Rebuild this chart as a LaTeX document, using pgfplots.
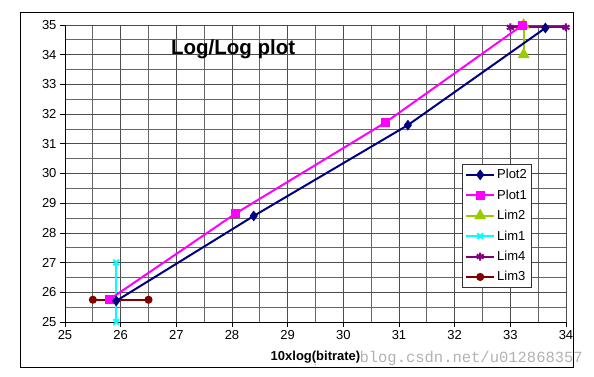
\documentclass[border=0pt]{standalone}
\usepackage{pgfplots}
\pgfplotsset{compat=1.18}
\usepackage{fontspec}
\setmainfont{Liberation Sans}
\newfontfamily\wmfont{Liberation Mono}
\definecolor{cNavy}{HTML}{000080}
\definecolor{cMag}{HTML}{FF00FF}
\definecolor{cLime}{HTML}{99CC00}
\definecolor{cCyan}{HTML}{00FFFF}
\definecolor{cPurple}{HTML}{800080}
\definecolor{cDred}{HTML}{800000}
\begin{document}
\begin{tikzpicture}[x=1pt,y=1pt]
\useasboundingbox (0,0) rectangle (594,376);
\draw[line width=1pt] (20,9) rectangle (573,364);
\node[anchor=base east, text=black!30, font=\wmfont\fontsize{15.5}{15.5}\selectfont, inner sep=0pt] at (583,14) {https://blog.csdn.net/u012868357};
\begin{axis}[at={(65pt,54pt)}, anchor=south west, scale only axis, width=501pt, height=297pt,
 xmin=25, xmax=34, ymin=25, ymax=35,
 xtick={25,...,34}, ytick={25,...,35}, minor tick num=1, grid=both,
 major grid style={black!70, line width=0.8pt}, minor grid style={black!60, line width=0.8pt},
 axis x line*=bottom, axis y line*=left,
 axis line style={line width=1pt, -},
 tick style={black, line width=0.8pt}, major tick length=5pt, minor tick length=0pt, tick align=outside,
 ticklabel style={font=\fontsize{13}{13}\selectfont},
 /pgf/number format/assume math mode=true,
 xlabel={10xlog(bitrate)},
 xlabel style={font=\fontsize{13}{13}\selectfont\bfseries, at={(axis description cs:0.5,0)}, anchor=center, yshift=-35pt, fill=white, inner sep=1pt},
 clip=false,
 legend image code/.code={\draw[mark repeat=2,mark phase=2,#1] plot coordinates {(0pt,0pt)(14pt,0pt)(28pt,0pt)};},
 legend style={at={(0.792,0.532)}, anchor=north west, font=\fontsize{13}{13}\selectfont,
   draw=black!80, line width=0.8pt, inner xsep=3pt, inner ysep=3pt, row sep=5.5pt, cells={anchor=west}},
 reverse legend,
]
\addplot[cDred, line width=2pt, mark=*, mark size=3pt, mark options={solid}] coordinates {(25.5,25.75) (26.5,25.75)};
\addlegendentry{Lim3}
\addplot[cPurple, line width=2pt, mark=asterisk, mark size=4pt, mark options={solid}] coordinates {(33,34.92) (34,34.92)};
\addlegendentry{Lim4}
\addplot[cCyan, line width=2pt, mark=x, mark size=4pt, mark options={solid}] coordinates {(25.92,25) (25.92,27)};
\addlegendentry{Lim1}
\addplot[cLime, line width=2pt, mark=triangle*, mark size=5pt, mark options={solid}] coordinates {(33.24,34) (33.24,35)};
\addlegendentry{Lim2}
\addplot[cMag, line width=2pt, mark=square*, mark size=3.5pt, mark options={solid}] coordinates {(25.8,25.76) (28.07,28.66) (30.75,31.71) (33.22,35.0)};
\addlegendentry{Plot1}
\addplot[cNavy, line width=2pt, mark=diamond*, mark size=3.8pt, mark options={solid}] coordinates {(25.92,25.71) (28.39,28.57) (31.16,31.63) (33.63,34.9)};
\addlegendentry{Plot2}
\node[font=\fontsize{20.5}{20.5}\selectfont\bfseries] at (axis cs:28.02,34.17) {Log/Log plot};
\end{axis}
\end{tikzpicture}
\end{document}
